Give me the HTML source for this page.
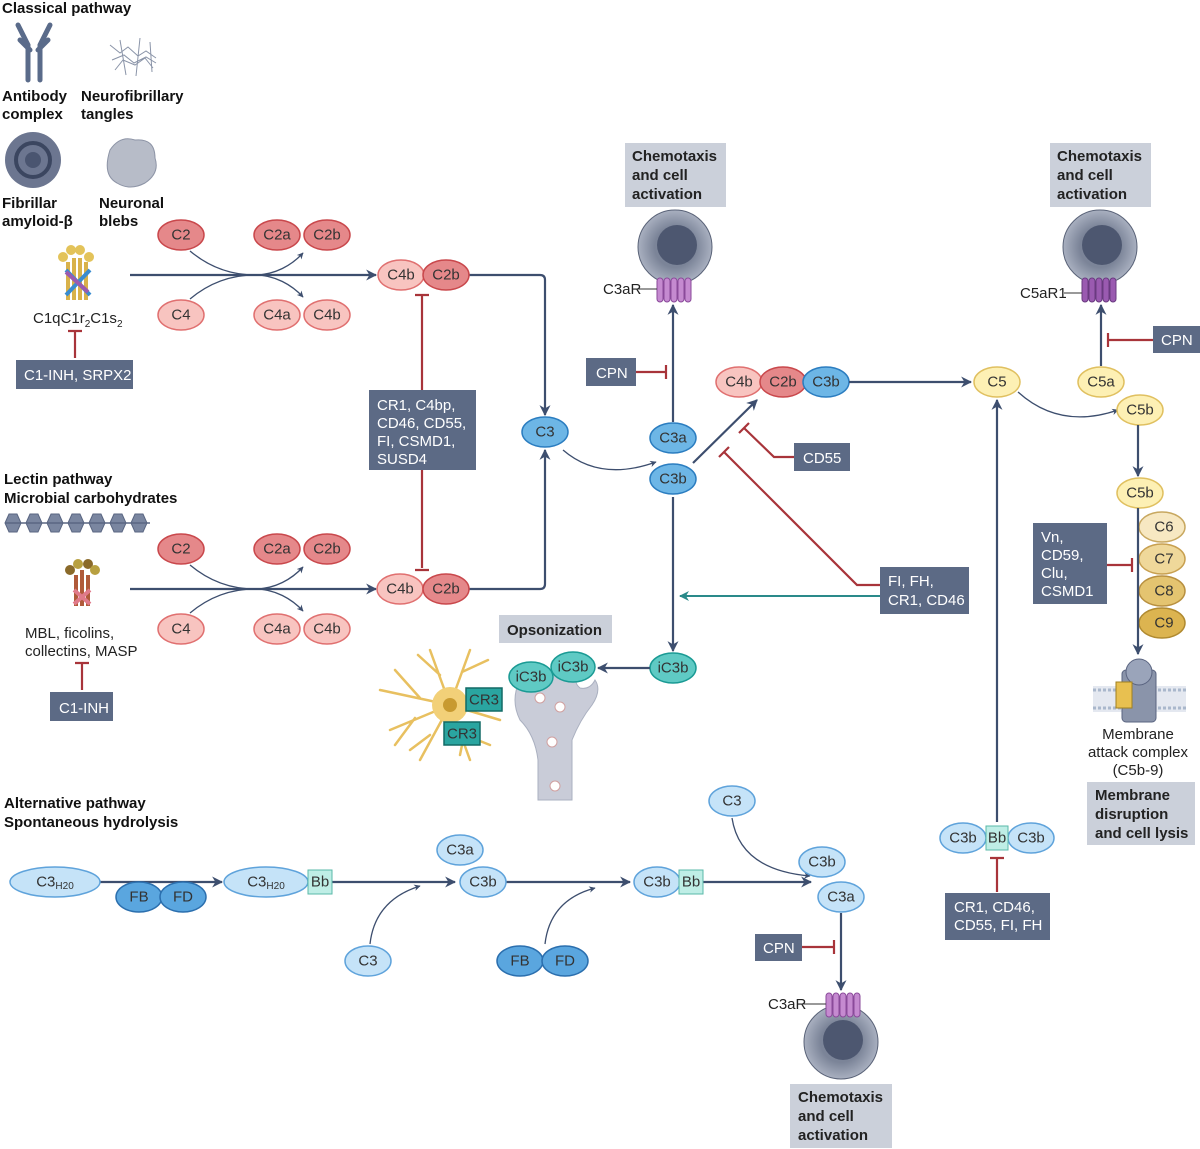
<!DOCTYPE html>
<html><head><meta charset="utf-8"><style>
html,body{margin:0;padding:0;background:#fff}
svg{display:block;font-family:"Liberation Sans",sans-serif}
.r{fill:#e5888a;stroke:#c9484c;stroke-width:1.5}
.p{fill:#f8c4c0;stroke:#e07070;stroke-width:1.5}
.b{fill:#6db6e6;stroke:#2b7dc0;stroke-width:1.5}
.lb{fill:#c5e3f8;stroke:#5fa3db;stroke-width:1.5}
.db{fill:#5aa6df;stroke:#2b6fae;stroke-width:1.5}
.t{fill:#5fcac4;stroke:#1a9a94;stroke-width:1.5}
.y{fill:#fdf0b4;stroke:#e0c060;stroke-width:1.5}
.et{font-size:15px;fill:#333;text-anchor:middle;dominant-baseline:central}
.ln{stroke:#3d4e6e;stroke-width:2.2;fill:none}
.lt{stroke:#3d4e6e;stroke-width:1.3;fill:none}
.inh{stroke:#a8343a;stroke-width:2.2;fill:none}
.dk{fill:#5c6a85}
.dt{fill:#fff;font-size:15px}
.gb{fill:#cbd0da}
.gt{fill:#222;font-size:15px;font-weight:bold}
.lab{fill:#222;font-size:15px}
.hd{fill:#111;font-size:15px;font-weight:bold}
</style></head><body>
<svg width="1200" height="1149" viewBox="0 0 1200 1149" xmlns="http://www.w3.org/2000/svg">
<defs>
<marker id="a" viewBox="0 0 10 10" refX="9" refY="5" markerWidth="5" markerHeight="5" orient="auto"><path d="M0,0L10,5L0,10L3,5z" fill="#3d4e6e"/></marker>
<marker id="at" viewBox="0 0 10 10" refX="9" refY="5" markerWidth="5" markerHeight="5" orient="auto"><path d="M0,0L10,5L0,10L3,5z" fill="#2a8a8a"/></marker>
<radialGradient id="cell" cx="0.5" cy="0.5" r="0.5"><stop offset="0.55" stop-color="#7b8498"/><stop offset="1" stop-color="#a9b0c0"/></radialGradient>
</defs>

<text x="2" y="13" class="hd">Classical pathway</text>
<text x="2" y="101" class="hd">Antibody</text><text x="2" y="119" class="hd">complex</text>
<text x="81" y="101" class="hd">Neurofibrillary</text><text x="81" y="119" class="hd">tangles</text>
<text x="2" y="208" class="hd">Fibrillar</text><text x="2" y="226" class="hd">amyloid-β</text>
<text x="99" y="208" class="hd">Neuronal</text><text x="99" y="226" class="hd">blebs</text>
<g stroke="#5a6b8a" stroke-width="5" fill="none" stroke-linecap="round"><path d="M28,80V45L18,25M40,80V45L50,25M20,40L30,50M48,40L38,50"/></g>
<g stroke="#8a94a8" stroke-width="1" fill="none"><path d="M110,45l10,8l8,-6l10,9l8,-5l10,7M112,60l12,-5l10,8l12,-6l10,6M115,70l8,-10l12,5l10,-7l8,10M120,40l6,35M140,38l-4,38M150,42l2,30"/></g>
<circle cx="33" cy="160" r="28" fill="#6c7690"/><circle cx="33" cy="160" r="17" fill="none" stroke="#3b4660" stroke-width="4"/><circle cx="33" cy="160" r="8" fill="#4a5570"/>
<path d="M110,150q10,-15 25,-10q20,-2 20,18q5,15 -10,25q-15,8 -28,0q-15,-8 -7,-33z" fill="#b7bcc8" stroke="#8d94a6"/>
<g><path d="M68,300V262M74,300V258M80,300V258M86,300V262" stroke="#d9b24a" stroke-width="4"/><circle cx="63" cy="257" r="5" fill="#e3c35a"/><circle cx="71" cy="250" r="5" fill="#e3c35a"/><circle cx="80" cy="250" r="5" fill="#e3c35a"/><circle cx="89" cy="257" r="5" fill="#e3c35a"/><path d="M66,270L90,295M90,270L66,295" stroke="#3a8cd0" stroke-width="4"/><path d="M66,272L88,292" stroke="#9a5bb0" stroke-width="4"/></g>
<text x="33" y="323" class="lab">C1qC1r<tspan font-size="10" dy="4">2</tspan><tspan dy="-4">C1s</tspan><tspan font-size="10" dy="4">2</tspan></text>
<path class="inh" d="M75,358V331M68,331H82"/>
<rect x="16" y="360" width="117" height="29" class="dk"/><text x="24" y="380" class="dt" font-size="14">C1-INH, SRPX2</text>

<path class="ln" d="M130,275H376" marker-end="url(#a)"/>
<path class="lt" d="M190,251C215,272 240,275 255,275C275,275 292,285 303,297" marker-end="url(#a)"/>
<path class="lt" d="M190,299C215,278 240,275 255,275C275,275 292,265 303,253" marker-end="url(#a)"/>
<ellipse cx="181" cy="235" rx="23" ry="15" class="r"/><text x="181" y="235" class="et">C2</text>
<ellipse cx="181" cy="315" rx="23" ry="15" class="p"/><text x="181" y="315" class="et">C4</text>
<ellipse cx="277" cy="235" rx="23" ry="15" class="r"/><text x="277" y="235" class="et">C2a</text>
<ellipse cx="327" cy="235" rx="23" ry="15" class="r"/><text x="327" y="235" class="et">C2b</text>
<ellipse cx="277" cy="315" rx="23" ry="15" class="p"/><text x="277" y="315" class="et">C4a</text>
<ellipse cx="327" cy="315" rx="23" ry="15" class="p"/><text x="327" y="315" class="et">C4b</text>
<path class="ln" d="M468,275H540Q545,275 545,280V415" marker-end="url(#a)"/>
<ellipse cx="401" cy="275" rx="23" ry="15" class="p"/><text x="401" y="275" class="et">C4b</text>
<ellipse cx="446" cy="275" rx="23" ry="15" class="r"/><text x="446" y="275" class="et">C2b</text>
<path class="inh" d="M422,295V568M415,295H429M415,570H429"/>
<rect x="369" y="390" width="107" height="80" class="dk"/>
<text class="dt"><tspan x="377" y="410">CR1, C4bp,</tspan><tspan x="377" y="428">CD46, CD55,</tspan><tspan x="377" y="446">FI, CSMD1,</tspan><tspan x="377" y="464">SUSD4</tspan></text>

<text x="4" y="484" class="hd">Lectin pathway</text>
<text x="4" y="503" class="hd" font-size="14">Microbial carbohydrates</text>
<path d="M5,523l4,-9h8l4,9l-4,9h-8zM26,523l4,-9h8l4,9l-4,9h-8zM47,523l4,-9h8l4,9l-4,9h-8zM68,523l4,-9h8l4,9l-4,9h-8zM89,523l4,-9h8l4,9l-4,9h-8zM110,523l4,-9h8l4,9l-4,9h-8zM131,523l4,-9h8l4,9l-4,9h-8z" fill="#7a86a0" stroke="#5a6682"/>
<path d="M5,523H150" stroke="#5a6682" stroke-width="1.5"/>
<g><path d="M76,606V575M82,606V570M88,606V575" stroke="#b05a3a" stroke-width="4"/><circle cx="70" cy="570" r="5" fill="#8a6a2a"/><circle cx="78" cy="564" r="5" fill="#b8a040"/><circle cx="88" cy="564" r="5" fill="#8a6a2a"/><circle cx="95" cy="570" r="5" fill="#b8a040"/><path d="M74,590L90,604M90,590L74,604" stroke="#e07a8a" stroke-width="4"/></g>
<text class="lab"><tspan x="25" y="638">MBL, ficolins,</tspan><tspan x="25" y="656">collectins, MASP</tspan></text>
<path class="inh" d="M82,690V663M75,663H89"/>
<rect x="50" y="692" width="63" height="29" class="dk"/><text x="59" y="713" class="dt">C1-INH</text>

<path class="ln" d="M130,589H376" marker-end="url(#a)"/>
<path class="lt" d="M190,565C215,586 240,589 255,589C275,589 292,599 303,611" marker-end="url(#a)"/>
<path class="lt" d="M190,613C215,592 240,589 255,589C275,589 292,579 303,567" marker-end="url(#a)"/>
<ellipse cx="181" cy="549" rx="23" ry="15" class="r"/><text x="181" y="549" class="et">C2</text>
<ellipse cx="181" cy="629" rx="23" ry="15" class="p"/><text x="181" y="629" class="et">C4</text>
<ellipse cx="277" cy="549" rx="23" ry="15" class="r"/><text x="277" y="549" class="et">C2a</text>
<ellipse cx="327" cy="549" rx="23" ry="15" class="r"/><text x="327" y="549" class="et">C2b</text>
<ellipse cx="277" cy="629" rx="23" ry="15" class="p"/><text x="277" y="629" class="et">C4a</text>
<ellipse cx="327" cy="629" rx="23" ry="15" class="p"/><text x="327" y="629" class="et">C4b</text>
<path class="ln" d="M468,589H540Q545,589 545,584V450" marker-end="url(#a)"/>
<ellipse cx="400" cy="589" rx="23" ry="15" class="p"/><text x="400" y="589" class="et">C4b</text>
<ellipse cx="446" cy="589" rx="23" ry="15" class="r"/><text x="446" y="589" class="et">C2b</text>

<ellipse cx="545" cy="432" rx="23" ry="15" class="b"/><text x="545" y="432" class="et">C3</text>
<path class="lt" d="M563,450Q600,482 656,462" marker-end="url(#a)"/>
<path class="ln" d="M673,422V305" marker-end="url(#a)"/>
<circle cx="675" cy="247" r="37" fill="url(#cell)" stroke="#5a6378"/><circle cx="677" cy="245" r="20" fill="#4d5770"/>
<g fill="#c58ad0" stroke="#8a4a9a"><rect x="657" y="278" width="6" height="24" rx="3"/><rect x="664" y="278" width="6" height="24" rx="3"/><rect x="671" y="278" width="6" height="24" rx="3"/><rect x="678" y="278" width="6" height="24" rx="3"/><rect x="685" y="278" width="6" height="24" rx="3"/></g>
<text x="603" y="294" class="lab" font-size="14">C3aR</text><path d="M636,289H657" stroke="#333"/>
<rect x="625" y="143" width="101" height="64" class="gb"/>
<text class="gt"><tspan x="632" y="161">Chemotaxis</tspan><tspan x="632" y="180">and cell</tspan><tspan x="632" y="199">activation</tspan></text>
<rect x="586" y="358" width="50" height="28" class="dk"/><text x="596" y="378" class="dt">CPN</text>
<path class="inh" d="M636,372H666M666,365V379"/>
<ellipse cx="673" cy="438" rx="23" ry="15" class="b"/><text x="673" y="438" class="et">C3a</text>
<ellipse cx="673" cy="479" rx="23" ry="15" class="b"/><text x="673" y="479" class="et">C3b</text>
<path class="ln" d="M693,463L757,400" marker-end="url(#a)"/>
<ellipse cx="739" cy="382" rx="23" ry="15" class="p"/><text x="739" y="382" class="et">C4b</text>
<ellipse cx="783" cy="382" rx="23" ry="15" class="r"/><text x="783" y="382" class="et">C2b</text>
<ellipse cx="826" cy="382" rx="23" ry="15" class="b"/><text x="826" y="382" class="et">C3b</text>
<path class="ln" d="M849,382H971" marker-end="url(#a)"/>
<rect x="794" y="443" width="56" height="28" class="dk"/><text x="803" y="463" class="dt">CD55</text>
<path class="inh" d="M794,457H774L744,428M739,433L749,423"/>
<rect x="880" y="567" width="89" height="47" class="dk"/>
<text class="dt"><tspan x="888" y="586">FI, FH,</tspan><tspan x="888" y="605">CR1, CD46</tspan></text>
<path class="inh" d="M880,585H857L724,452M719,457L729,447"/>
<path d="M880,596H680" stroke="#2a8a8a" stroke-width="2" fill="none" marker-end="url(#at)"/>
<path class="ln" d="M673,497V651" marker-end="url(#a)"/>
<ellipse cx="673" cy="668" rx="23" ry="15" class="t"/><text x="673" y="668" class="et">iC3b</text>
<path class="ln" d="M650,668H598" marker-end="url(#a)"/>
<rect x="499" y="615" width="113" height="28" class="gb"/><text x="507" y="635" class="gt">Opsonization</text>
<g stroke="#e8c060" stroke-width="2.5" fill="none" stroke-linecap="round">
<path d="M450,705L380,690M420,698L395,670M450,705L390,730M415,718L395,745M450,705L430,650M440,675L418,655M450,705L470,650M462,672L488,660M450,705L500,720M450,705L470,760M450,705L420,760M430,735L410,750M465,735L490,745M465,730L460,755"/>
</g>
<circle cx="450" cy="705" r="18" fill="#f2d078"/><circle cx="450" cy="705" r="7" fill="#c89a30"/>
<rect x="466" y="688" width="36" height="23" fill="#2aa5a0" stroke="#126a66" stroke-width="1.5"/><text x="484" y="700" class="et">CR3</text>
<rect x="444" y="722" width="36" height="23" fill="#2aa5a0" stroke="#126a66" stroke-width="1.5"/><text x="462" y="734" class="et">CR3</text>
<path d="M520,680Q510,700 520,720Q535,735 538,760V800H572V740Q580,720 592,705Q602,690 595,680Q590,690 580,688Q570,680 585,670Z" fill="#c9ccd8" stroke="#aab0c0"/>
<g fill="#fff" stroke="#d0a0a0"><circle cx="540" cy="698" r="5"/><circle cx="560" cy="707" r="5"/><circle cx="552" cy="742" r="5"/><circle cx="555" cy="786" r="5"/></g>
<ellipse cx="531" cy="677" rx="22" ry="15" class="t"/><text x="531" y="677" class="et">iC3b</text>
<ellipse cx="573" cy="667" rx="22" ry="15" class="t"/><text x="573" y="667" class="et">iC3b</text>

<ellipse cx="997" cy="382" rx="23" ry="15" class="y"/><text x="997" y="382" class="et">C5</text>
<path class="lt" d="M1018,392Q1060,430 1118,410" marker-end="url(#a)"/>
<ellipse cx="1101" cy="382" rx="23" ry="15" class="y"/><text x="1101" y="382" class="et">C5a</text>
<path class="ln" d="M1101,366V305" marker-end="url(#a)"/>
<circle cx="1100" cy="247" r="37" fill="url(#cell)" stroke="#5a6378"/><circle cx="1102" cy="245" r="20" fill="#4d5770"/>
<g fill="#9a5ab0" stroke="#6a3a80"><rect x="1082" y="278" width="6" height="24" rx="3"/><rect x="1089" y="278" width="6" height="24" rx="3"/><rect x="1096" y="278" width="6" height="24" rx="3"/><rect x="1103" y="278" width="6" height="24" rx="3"/><rect x="1110" y="278" width="6" height="24" rx="3"/></g>
<text x="1020" y="298" class="lab" font-size="14">C5aR1</text><path d="M1064,293H1082" stroke="#333"/>
<rect x="1050" y="143" width="101" height="64" class="gb"/>
<text class="gt"><tspan x="1057" y="161">Chemotaxis</tspan><tspan x="1057" y="180">and cell</tspan><tspan x="1057" y="199">activation</tspan></text>
<rect x="1153" y="326" width="47" height="27" class="dk"/><text x="1161" y="345" class="dt">CPN</text>
<path class="inh" d="M1153,340H1108M1108,333V347"/>
<ellipse cx="1140" cy="410" rx="23" ry="15" class="y"/><text x="1140" y="410" class="et">C5b</text>
<path class="ln" d="M1138,425V476" marker-end="url(#a)"/>
<ellipse cx="1140" cy="493" rx="23" ry="15" class="y"/><text x="1140" y="493" class="et">C5b</text>
<ellipse cx="1162" cy="527" rx="23" ry="15" fill="#f7e8c2" stroke="#c8a860" stroke-width="1.5"/><text x="1164" y="527" class="et">C6</text>
<ellipse cx="1162" cy="559" rx="23" ry="15" fill="#efd89a" stroke="#c8a050" stroke-width="1.5"/><text x="1164" y="559" class="et">C7</text>
<ellipse cx="1162" cy="591" rx="23" ry="15" fill="#e4c470" stroke="#b89040" stroke-width="1.5"/><text x="1164" y="591" class="et">C8</text>
<ellipse cx="1162" cy="623" rx="23" ry="15" fill="#dcb450" stroke="#b08a30" stroke-width="1.5"/><text x="1164" y="623" class="et">C9</text>
<path class="ln" d="M1138,508V654" marker-end="url(#a)"/>
<rect x="1033" y="523" width="74" height="81" class="dk"/>
<text class="dt"><tspan x="1041" y="542">Vn,</tspan><tspan x="1041" y="560">CD59,</tspan><tspan x="1041" y="578">Clu,</tspan><tspan x="1041" y="596">CSMD1</tspan></text>
<path class="inh" d="M1107,565H1132M1132,558V572"/>
<g><rect x="1093" y="686" width="93" height="26" fill="#e4e8f0"/>
<path d="M1093,690H1186M1093,708H1186" stroke="#aab8cc" stroke-width="3" stroke-dasharray="3,2"/>
<rect x="1122" y="670" width="34" height="52" rx="4" fill="#8a94aa" stroke="#5a6480"/>
<circle cx="1139" cy="672" r="13" fill="#9aa4ba" stroke="#5a6480"/>
<rect x="1116" y="682" width="16" height="26" fill="#e8c050" stroke="#a08020"/></g>
<text class="lab" text-anchor="middle"><tspan x="1138" y="739">Membrane</tspan><tspan x="1138" y="757">attack complex</tspan><tspan x="1138" y="775">(C5b-9)</tspan></text>
<rect x="1087" y="782" width="108" height="63" class="gb"/>
<text class="gt"><tspan x="1095" y="800">Membrane</tspan><tspan x="1095" y="819">disruption</tspan><tspan x="1095" y="838">and cell lysis</tspan></text>
<path class="ln" d="M997,822V400" marker-end="url(#a)"/>
<ellipse cx="963" cy="838" rx="23" ry="15" class="lb"/><text x="963" y="838" class="et">C3b</text>
<ellipse cx="1031" cy="838" rx="23" ry="15" class="lb"/><text x="1031" y="838" class="et">C3b</text>
<rect x="986" y="826" width="22" height="24" fill="#bfeee6" stroke="#5ab8a8"/><text x="997" y="838" class="et">Bb</text>
<path class="inh" d="M997,892V858M990,858H1004"/>
<rect x="945" y="893" width="105" height="47" class="dk"/>
<text class="dt"><tspan x="954" y="912">CR1, CD46,</tspan><tspan x="954" y="930">CD55, FI, FH</tspan></text>

<text x="4" y="808" class="hd">Alternative pathway</text>
<text x="4" y="827" class="hd" font-size="14">Spontaneous hydrolysis</text>
<path class="ln" d="M100,882H222" marker-end="url(#a)"/>
<ellipse cx="55" cy="882" rx="45" ry="15" class="lb"/><text x="55" y="882" class="et">C3<tspan font-size="10" dy="4">H20</tspan></text>
<ellipse cx="139" cy="897" rx="23" ry="15" class="db"/><text x="139" y="897" class="et">FB</text>
<ellipse cx="183" cy="897" rx="23" ry="15" class="db"/><text x="183" y="897" class="et">FD</text>
<path class="ln" d="M332,882H455" marker-end="url(#a)"/>
<ellipse cx="266" cy="882" rx="42" ry="15" class="lb"/><text x="266" y="882" class="et">C3<tspan font-size="10" dy="4">H20</tspan></text>
<rect x="308" y="870" width="24" height="24" fill="#bfeee6" stroke="#5ab8a8"/><text x="320" y="882" class="et">Bb</text>
<path class="lt" d="M370,944Q375,900 420,886" marker-end="url(#a)"/>
<ellipse cx="368" cy="961" rx="23" ry="15" class="lb"/><text x="368" y="961" class="et">C3</text>
<ellipse cx="460" cy="850" rx="23" ry="15" class="lb"/><text x="460" y="850" class="et">C3a</text>
<path class="ln" d="M506,882H630" marker-end="url(#a)"/>
<ellipse cx="483" cy="882" rx="23" ry="15" class="lb"/><text x="483" y="882" class="et">C3b</text>
<path class="lt" d="M545,944Q550,900 595,888" marker-end="url(#a)"/>
<ellipse cx="520" cy="961" rx="23" ry="15" class="db"/><text x="520" y="961" class="et">FB</text>
<ellipse cx="565" cy="961" rx="23" ry="15" class="db"/><text x="565" y="961" class="et">FD</text>
<path class="ln" d="M703,882H811" marker-end="url(#a)"/>
<ellipse cx="657" cy="882" rx="23" ry="15" class="lb"/><text x="657" y="882" class="et">C3b</text>
<rect x="679" y="870" width="24" height="24" fill="#bfeee6" stroke="#5ab8a8"/><text x="691" y="882" class="et">Bb</text>
<path class="lt" d="M732,818Q740,870 810,876" marker-end="url(#a)"/>
<ellipse cx="732" cy="801" rx="23" ry="15" class="lb"/><text x="732" y="801" class="et">C3</text>
<ellipse cx="822" cy="862" rx="23" ry="15" class="lb"/><text x="822" y="862" class="et">C3b</text>
<ellipse cx="841" cy="897" rx="23" ry="15" class="lb"/><text x="841" y="897" class="et">C3a</text>
<path class="ln" d="M841,913V990" marker-end="url(#a)"/>
<rect x="755" y="934" width="47" height="27" class="dk"/><text x="763" y="953" class="dt">CPN</text>
<path class="inh" d="M802,947H834M834,940V954"/>
<circle cx="841" cy="1042" r="37" fill="url(#cell)" stroke="#5a6378"/><circle cx="843" cy="1040" r="20" fill="#4d5770"/>
<g fill="#c58ad0" stroke="#8a4a9a"><rect x="826" y="993" width="6" height="24" rx="3"/><rect x="833" y="993" width="6" height="24" rx="3"/><rect x="840" y="993" width="6" height="24" rx="3"/><rect x="847" y="993" width="6" height="24" rx="3"/><rect x="854" y="993" width="6" height="24" rx="3"/></g>
<text x="768" y="1009" class="lab" font-size="14">C3aR</text><path d="M801,1004H826" stroke="#333"/>
<rect x="790" y="1084" width="102" height="64" class="gb"/>
<text class="gt"><tspan x="798" y="1102">Chemotaxis</tspan><tspan x="798" y="1121">and cell</tspan><tspan x="798" y="1140">activation</tspan></text>
</svg>
</body></html>
